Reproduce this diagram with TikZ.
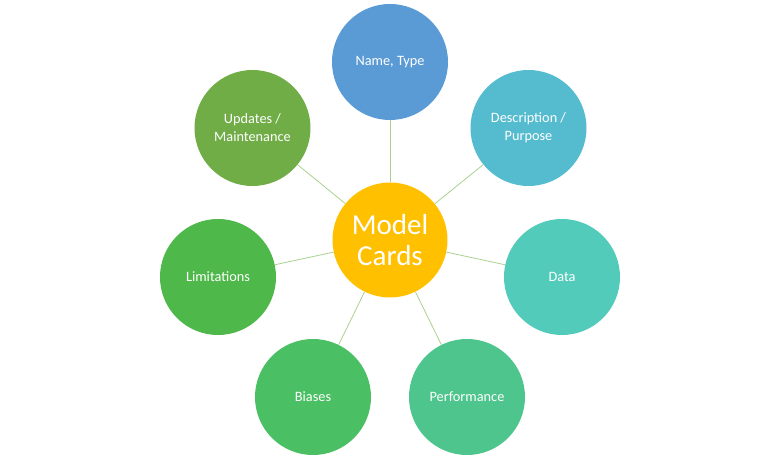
\documentclass[tikz,border=0pt]{standalone}
\usepackage{fontspec}
\setmainfont{Carlito}
\usepackage{tikz}
\usetikzlibrary{positioning}
\definecolor{coreyellow}{HTML}{FFC000}
\definecolor{nameblue}{HTML}{5B9BD5}
\definecolor{desccyan}{HTML}{55BCD0}
\definecolor{datateal}{HTML}{52CBBA}
\definecolor{perfgreen}{HTML}{4EC58C}
\definecolor{biasgreen}{HTML}{4BBF63}
\definecolor{limitgreen}{HTML}{4FB84A}
\definecolor{updgreen}{HTML}{70AD47}
\definecolor{linkgreen}{HTML}{A9D18E}
\newcommand{\labelfont}{\fontsize{14.3}{18}\selectfont}
\newcommand{\corefont}{\fontsize{29}{31}\selectfont}

\begin{document}
\begin{tikzpicture}[x=1pt,y=1pt]
  \path[use as bounding box] (-390,-220) rectangle (378,240);
  \tikzset{
    item/.style={circle,draw=none,inner sep=0pt,minimum size=116pt,align=center,text=white,font=\labelfont},
    core/.style={circle,draw=none,fill=coreyellow,inner sep=0pt,minimum size=115pt,align=center,text=white,font=\corefont},
    link/.style={draw=linkgreen,line width=0.8pt}
  }
  \node[core] (cards) at (0,0) {Model\\Cards};
  \node[item,fill=nameblue] (name) at (0,178) {Name, Type};
  \node[item,fill=desccyan] (desc) at (138.5,112) {Description /\\Purpose};
  \node[item,fill=datateal] (data) at (172,-37) {Data};
  \node[item,fill=perfgreen] (perf) at (77,-157) {Performance};
  \node[item,fill=biasgreen] (bias) at (-77,-157) {Biases};
  \node[item,fill=limitgreen] (limit) at (-172,-37) {Limitations};
  \node[item,fill=updgreen] (upd) at (-137.5,112) {Updates /\\Maintenance};

  \draw[link] (cards) -- (name);
  \draw[link] (cards) -- (desc);
  \draw[link] (cards) -- (data);
  \draw[link] (cards) -- (perf);
  \draw[link] (cards) -- (bias);
  \draw[link] (cards) -- (limit);
  \draw[link] (cards) -- (upd);
\end{tikzpicture}
\end{document}
